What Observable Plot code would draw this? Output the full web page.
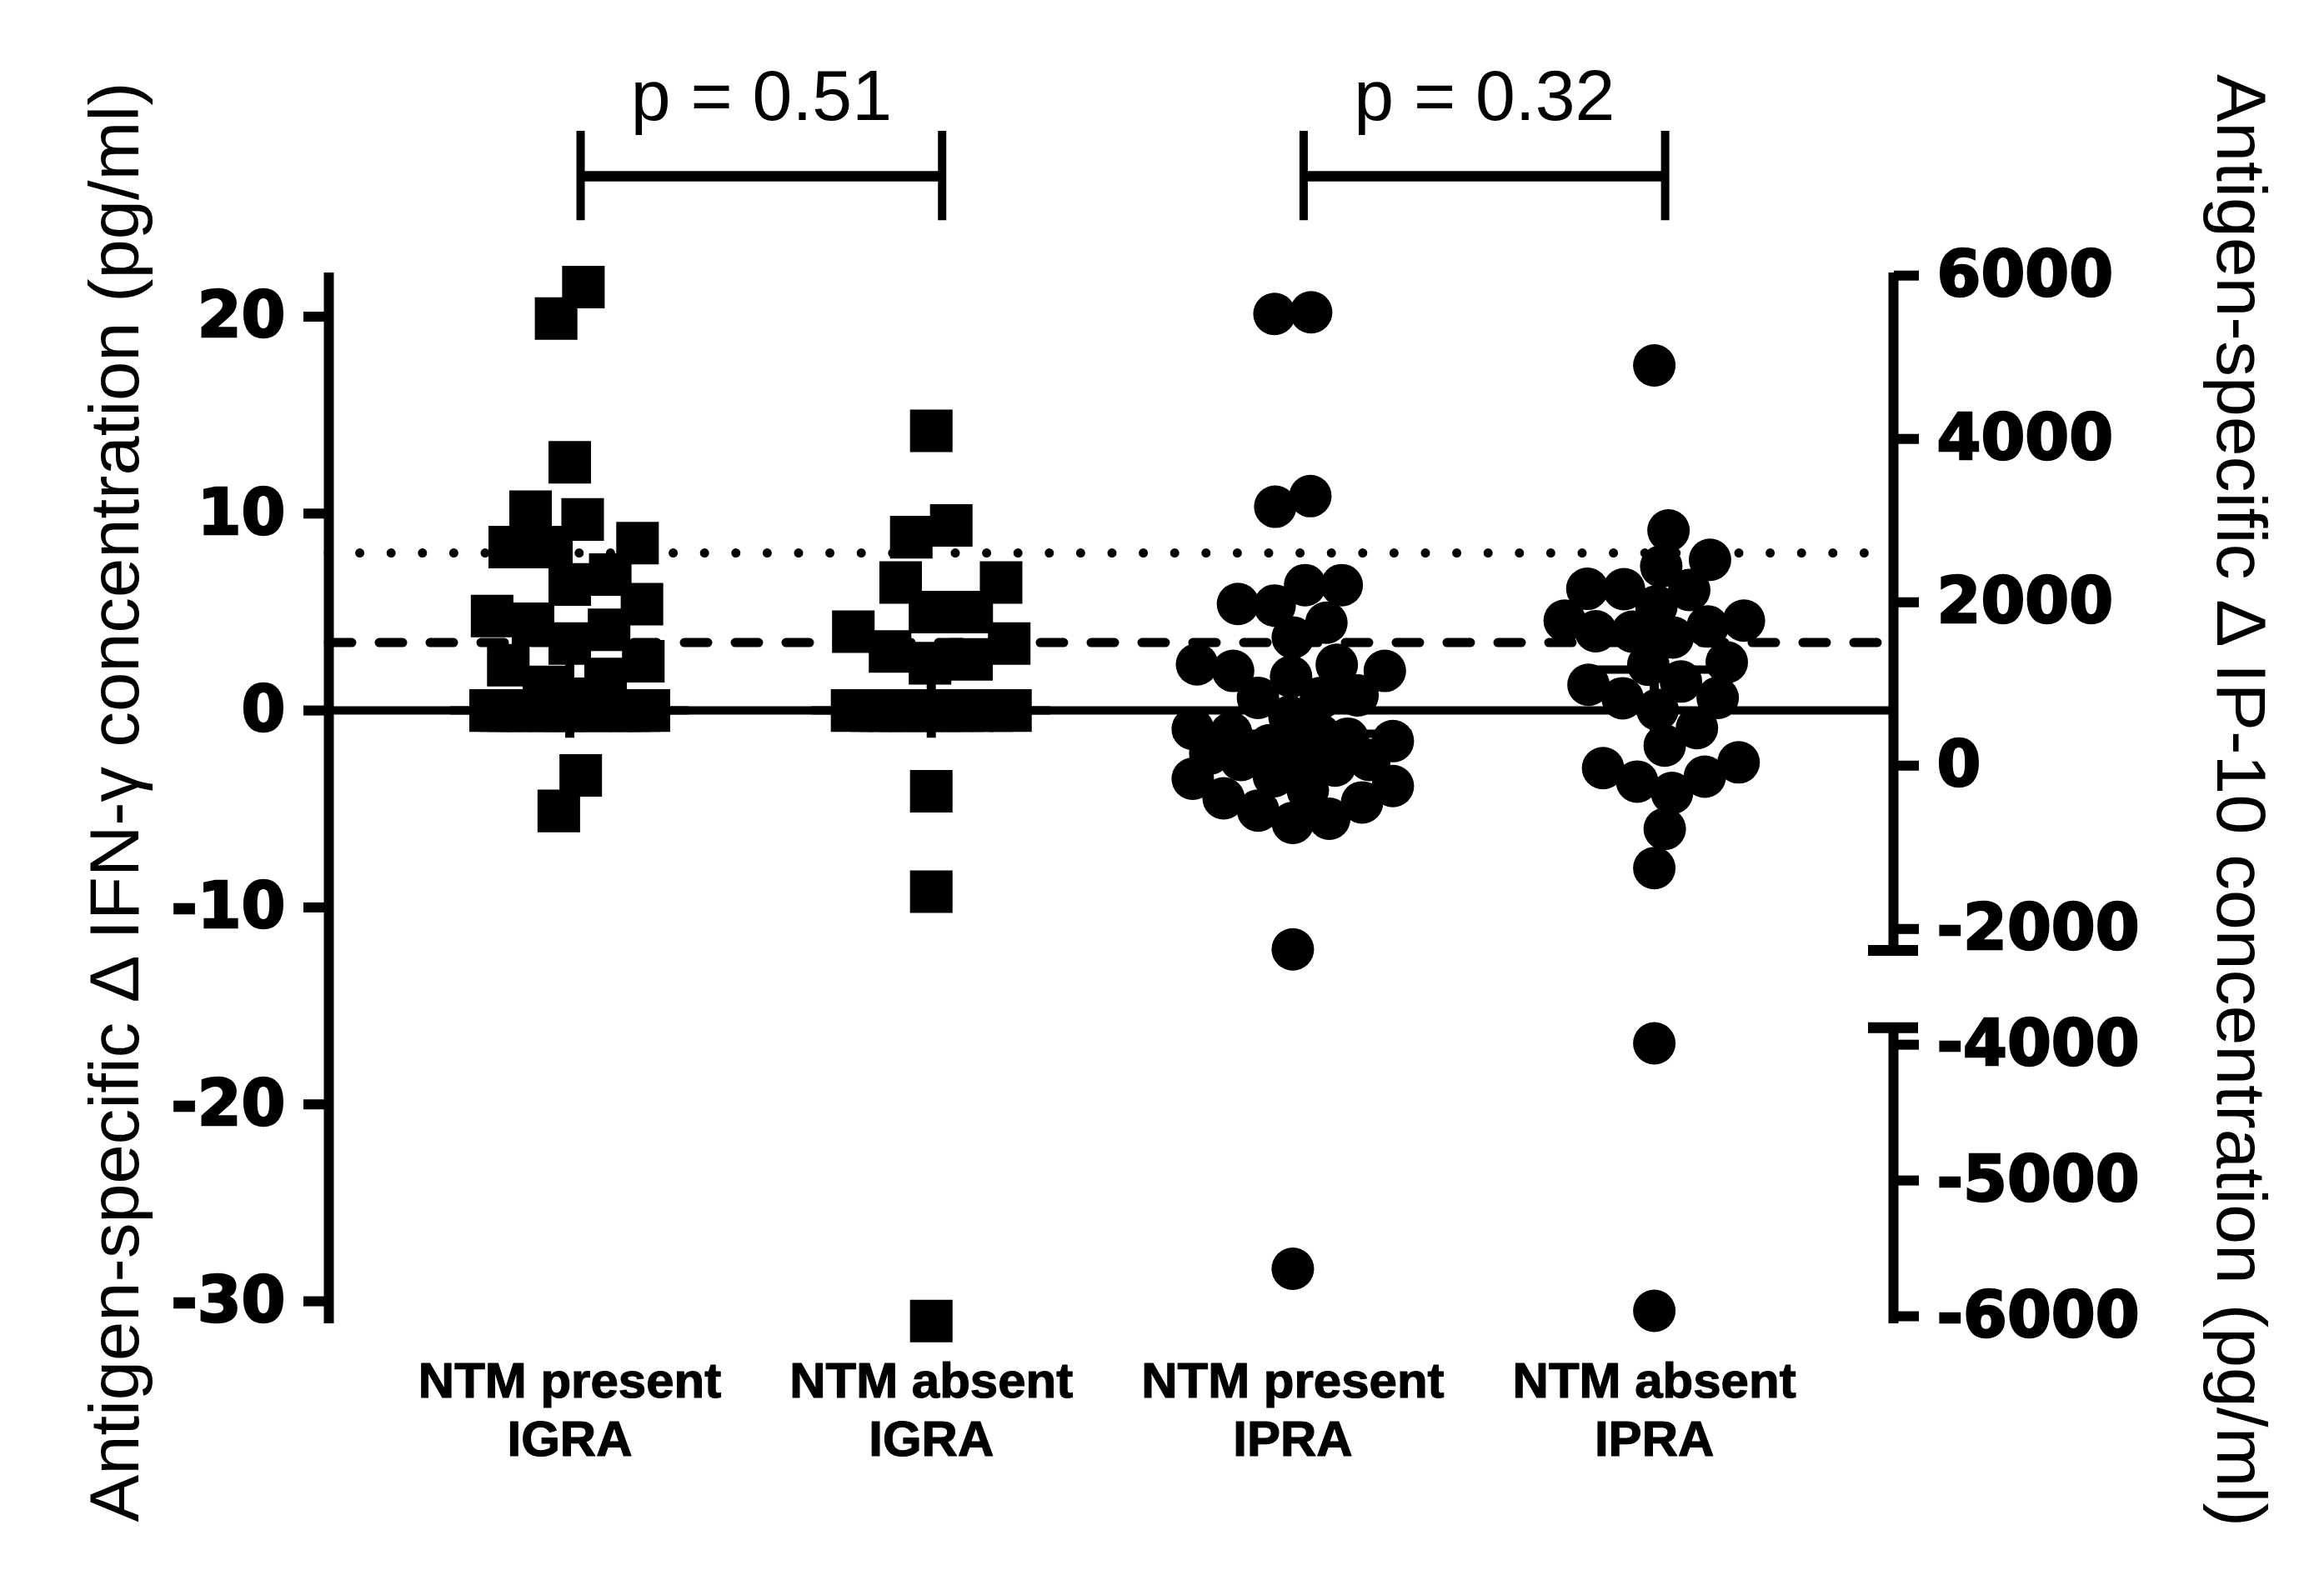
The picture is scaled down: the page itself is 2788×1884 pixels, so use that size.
<!DOCTYPE html>
<html><head><meta charset="utf-8">
<script src="https://cdn.jsdelivr.net/npm/d3@7"></script>
<script src="https://cdn.jsdelivr.net/npm/@observablehq/plot@0.6"></script>
<style>html,body{margin:0;padding:0;background:#fff}svg{display:block}</style>
</head><body><div id="chart"></div>
<script>
// ---------------- data ----------------
const groups = ["NTM present\nIGRA", "NTM absent\nIGRA", "NTM present\nIPRA", "NTM absent\nIPRA"];

// antigen-specific delta IFN-gamma, pg/ml (left axis)
const ifnNtmPresent = [21.5, 19.9, 12.6, 10.1, 9.7, 8.5, 8.3, 8.3, 6.9, 6.4, 5.4, 4.8, 4.4, 4.1, 3.4, 2.5, 2.3, 1.6, 1.2, 0.6,
  0, 0, 0, 0, 0, 0, 0, 0, 0, 0, 0, 0, 0, 0, 0, 0, 0, 0, -3.3, -5.1];
const ifnNtmAbsent = [14.2, 9.4, 8.8, 6.5, 6.5, 5.0, 5.0, 4.0, 3.4, 3.0, 2.6, 2.4,
  0, 0, 0, 0, 0, 0, 0, 0, 0, 0, 0, 0, 0, 0, -4.1, -9.2, -31.0];

// antigen-specific delta IP-10, pg/ml (right axis)
const ip10NtmPresent = [5550, 5530, 3300, 3170, 2210, 2210, 1980, 1960, 1750, 1570, 1240, 1235, 1160, 1160, 1090,
  860, 830, 830, 600, 450, 400, 380, 330, 300, 250, 150, 100, 70, 70, 0, -130, -160,
  -250, -300, -400, -450, -550, -650, -700, -2250, -5650];
const ip10NtmAbsent = [4900, 2880, 2520, 2440, 2165, 2160, 2150, 1950, 1775, 1775, 1705, 1645, 1640, 1570,
  1265, 1235, 1030, 990, 830, 825, 685, 460, 245, 40, -30, -135, -195, -335, -775, -1255, -3990, -5960];

// median and interquartile range per group (IGRA in IFN pg/ml, IPRA in IP-10 pg/ml)
const medians = [0, 0, 390, 1175];
const lowerQ = [-1.4, -1.4, -250, 190];
const upperQ = [4.0, 3.4, 1700, 1900];

// cut-offs (IFN pg/ml scale)
const cutoffDotted = 8.0;
const cutoffDashed = 3.45;

// axes
const leftTicks = [20, 10, 0, -10, -20, -30];
const rightTicks = [6000, 4000, 2000, 0, -2000, -4000, -5000, -6000];
const ipBreak = [-2262, -3875];          // broken right axis: upper end / lower start
const ipUpperRef = [-2000, 6000];         // upper segment reference values
const ipLowerRef = [-6000, -4000];        // lower segment reference values
const ipUpperOnLeft = [-11.095, 22.085];  // where those sit on the IFN axis
const ipLowerOnLeft = [-30.76, -16.97];

const pLabels = ["p = 0.51", "p = 0.32"];
const pPairs = [[1, 2], [3, 4]];
const bracketLevel = 27.13, bracketTop = 29.41, bracketBottom = 24.88, pLabelLevel = 31.17;

const leftTitle = "Antigen-specific \u0394 IFN-\u03b3 concentration (pg/ml)";
const rightTitle = "Antigen-specific \u0394 IP-10 concentration (pg/ml)";

// ---------------- layout ----------------
const W = 2788, H = 1884;
const ML = 394, MR = 517, MT = 327, MB = 296;
const xDomain = [0.3336, 4.6615];
const yDomain = [-31.14, 22.22];
const yS = Plot.scale({y: {domain: yDomain, range: [H - MB, MT]}});
const pxPerX = (W - MR - ML) / (xDomain[1] - xDomain[0]);

const ipUpper = d3.scaleLinear().domain(ipUpperRef).range(ipUpperOnLeft);
const ipLower = d3.scaleLinear().domain(ipLowerRef).range(ipLowerOnLeft);
const ipToLeft = u => (u >= -3000 ? ipUpper(u) : ipLower(u));
const ident = v => v;

// column-scatter arrangement: lowest values first, each point as near the centre as free space allows,
// then every vertically connected cluster is centred on its column
function swarm(values, toV, g, D, HALF) {
  const pts = values.map(u => { const v = toV(u); return {g, u, v, py: yS.apply(v)}; });
  pts.sort((a, b) => b.py - a.py);
  const placed = [];
  for (const p of pts) {
    const near = placed.filter(q => Math.abs(q.py - p.py) < D);
    const iv = near.map(q => { const w = Math.sqrt(D * D - (q.py - p.py) ** 2); return [q.dx - w, q.dx + w]; });
    const cands = [0];
    iv.forEach(([a, b]) => cands.push(a, b));
    const free = cands.filter(c => Math.abs(c) <= HALF + 1e-6 && iv.every(([a, b]) => c <= a + 1e-6 || c >= b - 1e-6));
    let best = 0;
    if (free.length) {
      free.sort((a, b) => Math.abs(a) - Math.abs(b) || b - a);
      best = free[0];
    } else {
      let bestScore = -Infinity;
      for (let c = -HALF; c <= HALF; c += 1) {
        const s = d3.min(near, q => Math.hypot(q.dx - c, q.py - p.py));
        if (s > bestScore + 1e-9 || (Math.abs(s - bestScore) < 1e-9 && Math.abs(c) < Math.abs(best))) { bestScore = s; best = c; }
      }
    }
    p.dx = best;
    placed.push(p);
  }
  // centre each vertically connected cluster
  const clusters = [];
  let cur = null;
  for (const p of pts) {
    if (!cur || cur[cur.length - 1].py - p.py >= D) { cur = []; clusters.push(cur); }
    cur.push(p);
  }
  for (const c of clusters) {
    const shift = (d3.min(c, p => p.dx) + d3.max(c, p => p.dx)) / 2;
    c.forEach(p => { p.dx -= shift; });
  }
  return pts.map(p => ({...p, x: g + p.dx / pxPerX}));
}

const squares = [...swarm(ifnNtmPresent, ident, 1, 50, 95), ...swarm(ifnNtmAbsent, ident, 2, 50, 95)];
const circles = [...swarm(ip10NtmPresent, ipToLeft, 3, 44, 120), ...swarm(ip10NtmAbsent, ipToLeft, 4, 44, 120)];

const conv = [ident, ident, ipToLeft, ipToLeft];
const medianHalfPx = [143, 143, 143, 70];
const medData = medians.map((m, i) => ({g: i + 1, v: conv[i](m), half: medianHalfPx[i] / pxPerX}));
const stemData = medians.map((m, i) => ({g: i + 1, lo: conv[i](lowerQ[i]), hi: conv[i](upperQ[i])}));

const bShift = 0.03;
const bracketH = pPairs.map(([a, b]) => ({x1: a + bShift, x2: b + bShift}));
const bracketV = pPairs.flatMap(([a, b]) => [a + bShift, b + bShift]);
const pData = pLabels.map((t, i) => ({t, x: (pPairs[i][0] + pPairs[i][1]) / 2 + bShift}));

const rightVs = rightTicks.map(ipToLeft);
const breakTick = 30 / pxPerX;

const numFont = "DejaVu Sans, Verdana, sans-serif";
const txtFont = "Liberation Sans, Arial, Helvetica, sans-serif";
const narrowFont = "Liberation Sans Narrow, Arial Narrow, Liberation Sans, Arial, sans-serif";

const chart = Plot.plot({
  width: W, height: H,
  marginLeft: ML, marginRight: MR, marginTop: MT, marginBottom: MB,
  x: {type: "linear", domain: xDomain, axis: null},
  y: {type: "linear", domain: yDomain, label: null},
  style: {background: "white", color: "black", overflow: "visible", fontFamily: txtFont},
  marks: [
    // reference lines
    Plot.ruleY([0], {stroke: "black", strokeWidth: 10}),
    Plot.ruleY([cutoffDotted], {stroke: "black", strokeWidth: 11, strokeDasharray: "0 37.6", strokeLinecap: "round"}),
    Plot.ruleY([cutoffDashed], {stroke: "black", strokeWidth: 11, strokeDasharray: "28 33", strokeLinecap: "round"}),
    // left axis
    Plot.ruleX([xDomain[0]], {y1: yDomain[0], y2: yDomain[1], stroke: "black", strokeWidth: 12}),
    Plot.axisY({anchor: "left", ticks: leftTicks, tickSize: 30, tickPadding: 22, tickFormat: d => String(d),
      label: null, strokeWidth: 12, fontSize: 76, fontWeight: "bold", fontFamily: numFont}),
    // right (broken) axis
    Plot.ruleX([xDomain[1]], {y1: ipToLeft(ipBreak[0]), y2: yDomain[1], stroke: "black", strokeWidth: 12}),
    Plot.ruleX([xDomain[1]], {y1: yDomain[0], y2: ipToLeft(ipBreak[1]), stroke: "black", strokeWidth: 12}),
    Plot.ruleY(ipBreak, {y: ipToLeft, x1: xDomain[1] - breakTick, x2: xDomain[1] + breakTick, stroke: "black", strokeWidth: 13}),
    Plot.axisY({anchor: "right", ticks: rightVs, tickSize: 30, tickPadding: 22,
      tickFormat: d => String(rightTicks[d3.minIndex(rightVs, r => Math.abs(r - d))]),
      label: null, strokeWidth: 12, fontSize: 76, fontWeight: "bold", fontFamily: numFont}),
    // medians and IQR
    Plot.ruleX(stemData, {x: "g", y1: "lo", y2: "hi", stroke: "black", strokeWidth: 11}),
    Plot.ruleY(medData, {y: "v", x1: d => d.g - d.half, x2: d => d.g + d.half, stroke: "black", strokeWidth: 10}),
    // points
    Plot.dot(squares, {x: "x", y: "v", symbol: "square", r: 28.8, fill: "black", stroke: null}),
    Plot.dot(circles, {x: "x", y: "v", symbol: "circle", r: 25.5, fill: "black", stroke: null}),
    // significance brackets
    Plot.ruleY(bracketH, {y: () => bracketLevel, x1: "x1", x2: "x2", stroke: "black", strokeWidth: 12.5}),
    Plot.ruleX(bracketV, {x: d => d, y1: bracketBottom, y2: bracketTop, stroke: "black", strokeWidth: 10}),
    Plot.text(pData, {x: "x", y: () => pLabelLevel, text: "t", fontSize: 86, fontFamily: txtFont, fill: "black", lineAnchor: "middle"}),
    // category labels
    Plot.text(groups, {x: (d, i) => i + 1, frameAnchor: "bottom", dy: 39, lineAnchor: "top", lineHeight: 70 / 60,
      fontSize: 60, fontWeight: "bold", fontFamily: txtFont, fill: "black", stroke: "black", strokeWidth: 1.2}),
    // axis titles
    Plot.text([leftTitle], {frameAnchor: "left", dx: 139 - ML, dy: 4.5, rotate: -90, fontSize: 84,
      fontFamily: narrowFont, fill: "black", textAnchor: "middle", lineAnchor: "middle"}),
    Plot.text([rightTitle], {frameAnchor: "right", dx: 415, dy: 2.5, rotate: 90, fontSize: 84,
      fontFamily: narrowFont, fill: "black", textAnchor: "middle", lineAnchor: "middle"})
  ]
});
document.getElementById("chart").appendChild(chart);

// fit the condensed axis titles to their length in the original; heavier tick numerals
chart.querySelectorAll("text").forEach(t => {
  if (t.textContent === leftTitle) { t.setAttribute("textLength", 1728); t.setAttribute("lengthAdjust", "spacingAndGlyphs"); }
  if (t.textContent === rightTitle) { t.setAttribute("textLength", 1743); t.setAttribute("lengthAdjust", "spacingAndGlyphs"); }
  if (/^-?\d+$/.test(t.textContent)) { t.setAttribute("stroke", "black"); t.setAttribute("stroke-width", "2.5"); }
});
</script>
</body></html>
